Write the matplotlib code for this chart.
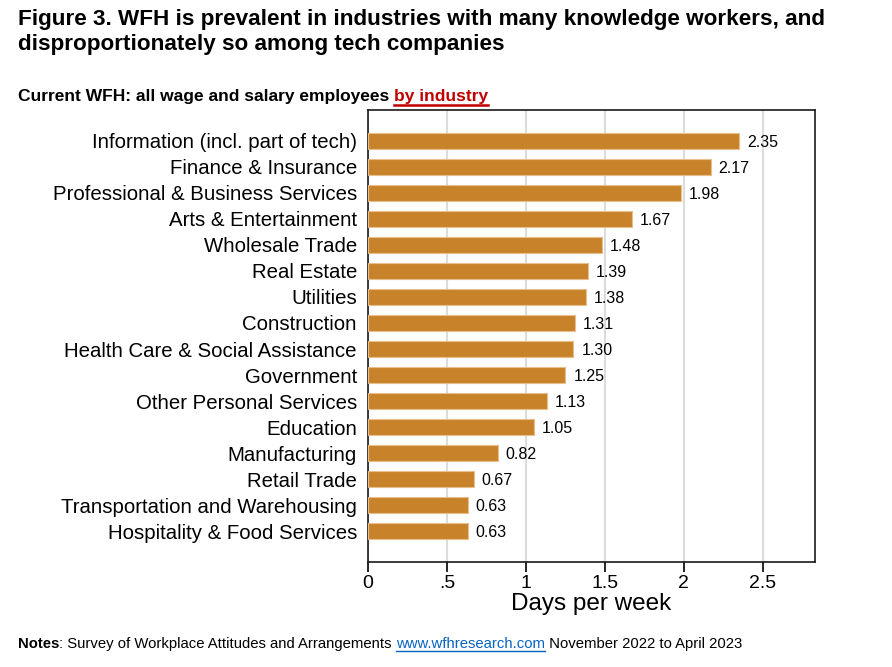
import matplotlib
matplotlib.use('Agg')
import matplotlib.pyplot as plt

industries = [
    'Information (incl. part of tech)',
    'Finance & Insurance',
    'Professional & Business Services',
    'Arts & Entertainment',
    'Wholesale Trade',
    'Real Estate',
    'Utilities',
    'Construction',
    'Health Care & Social Assistance',
    'Government',
    'Other Personal Services',
    'Education',
    'Manufacturing',
    'Retail Trade',
    'Transportation and Warehousing',
    'Hospitality & Food Services',
]
days = [2.35, 2.17, 1.98, 1.67, 1.48, 1.39, 1.38, 1.31, 1.30, 1.25, 1.13, 1.05, 0.82, 0.67, 0.63, 0.63]
xticks = [0, 0.5, 1, 1.5, 2, 2.5]
xtick_labels = ['0', '.5', '1', '1.5', '2', '2.5']


def main():
    plt.rcParams['font.family'] = ['Liberation Sans', 'DejaVu Sans']

    fig = plt.figure(figsize=(8.92, 6.67), dpi=100)
    ax = fig.add_axes([0.4126, 0.1574, 0.5011, 0.6777])

    pos = list(range(len(industries)))
    ax.barh(pos, days, height=0.62, color='#c8822a', edgecolor='#e6bf8c', linewidth=0.8, zorder=3)
    for p, v in zip(pos, days):
        ax.text(v + 0.05, p + 0.05, '%.2f' % v, va='center', ha='left', fontsize=11.5, zorder=4)

    ax.set_ylim(len(industries) - 1 + 1.19, -1.19)
    ax.set_xlim(0, 2.83)
    ax.set_yticks(pos)
    ax.set_yticklabels(industries, fontsize=14.7)
    ax.tick_params(axis='y', length=0, pad=8)
    ax.set_xticks(xticks)
    ax.set_xticklabels(xtick_labels, fontsize=14)
    ax.tick_params(axis='x', length=7, width=1.2, direction='out', pad=2)
    ax.grid(axis='x', color='#dcdcdc', linewidth=1.5, zorder=0)
    ax.set_xlabel('Days per week', fontsize=17.5, labelpad=1)
    for s in ax.spines.values():
        s.set_linewidth(1.2)
        s.set_color('#1a1a1a')

    fig.text(0.02, 0.986, 'Figure 3. WFH is prevalent in industries with many knowledge workers, and\n'
             'disproportionately so among tech companies',
             fontsize=16.2, fontweight='bold', va='top', ha='left', linespacing=1.25)
    sub_y = 1 - 101 / 667
    t = fig.text(0.02, sub_y, 'Current WFH: all wage and salary employees ',
                 fontsize=12.5, fontweight='bold', va='baseline', ha='left')
    fig.canvas.draw()
    x1 = t.get_window_extent().x1 / 892
    t2 = fig.text(x1, sub_y, 'by industry', fontsize=12.5, fontweight='bold', va='baseline', ha='left',
                  color='#c00000')
    fig.canvas.draw()
    b2 = t2.get_window_extent()
    uy = sub_y - 4 / 667
    fig.add_artist(plt.Line2D([b2.x0 / 892, b2.x1 / 892], [uy, uy], color='#c00000', linewidth=1.8))

    note_y = 1 - 648 / 667
    n = fig.text(0.02, note_y, 'Notes', fontsize=10.7, fontweight='bold', va='baseline')
    fig.canvas.draw()
    xb = n.get_window_extent().x1 / 892
    n2 = fig.text(xb, note_y, ': Survey of Workplace Attitudes and Arrangements ', fontsize=10.7,
                  va='baseline')
    fig.canvas.draw()
    xb = n2.get_window_extent().x1 / 892
    n3 = fig.text(xb, note_y, 'www.wfhresearch.com', fontsize=10.7, va='baseline', color='#0563c1')
    fig.canvas.draw()
    b3 = n3.get_window_extent()
    uy = note_y - 2.5 / 667
    fig.add_artist(plt.Line2D([b3.x0 / 892, b3.x1 / 892], [uy, uy], color='#0563c1', linewidth=1))
    fig.text(b3.x1 / 892, note_y, ' November 2022 to April 2023', fontsize=10.7, va='baseline')

    fig.savefig('out.png', dpi=100)


if __name__ == '__main__':
    main()
